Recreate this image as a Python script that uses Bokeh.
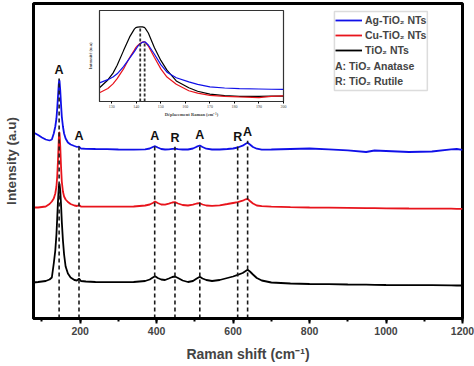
import numpy as np
from bokeh.plotting import figure
from bokeh.models import (Legend, LegendItem, BoxAnnotation, SingleIntervalTicker,
                          FixedTicker, Range1d)
from bokeh.layouts import column
from bokeh.embed import file_html
from bokeh.resources import INLINE
from bokeh.core.properties import value

# ---------------- data ----------------
shift = [78, 90, 100, 110, 120, 126, 131, 135, 138, 140, 142, 144, 145, 146, 148, 150,
         152, 155, 158, 162, 168, 175, 185, 192, 197, 202, 215, 240, 270, 300, 340, 370,
         382, 390, 396, 403, 412, 422, 432, 441, 448, 456, 468, 482, 495, 505, 513, 520,
         530, 545, 565, 585, 600, 612, 625, 633, 638, 644, 652, 662, 675, 700, 750, 800,
         850, 900, 948, 970, 1000, 1060, 1120, 1170, 1185, 1200]

ag_tio2 = [186, 183.5, 181, 179, 178, 179, 185, 192, 200, 210, 222, 234, 238, 238, 228, 214,
           202, 192, 185, 180, 176, 174, 172.5, 171.5, 172, 170, 169.7, 169.5, 169.3, 169, 168.8, 169.2,
           170, 171.5, 172.3, 171, 169.5, 169, 169.2, 169.6, 169.8, 169.3, 169, 169, 170, 171.8, 173, 171.5,
           169.8, 169, 169, 169.5, 170, 171, 172.8, 174.8, 175.7, 174, 171.5, 169.8, 168.8, 169, 169.5, 170,
           169.2, 168.2, 166.5, 168, 167.5, 166.5, 167, 169.2, 169.5, 168.7]

cu_tio2 = [111, 111, 111.5, 112, 114.5, 117, 120, 125, 132, 142, 158, 178, 186, 186, 172, 152,
           137, 127, 122, 119, 116.5, 114.5, 113, 112.5, 113.5, 112, 111.8, 111.8, 111.8, 111.8, 112, 113,
           114, 115.5, 117, 115.5, 114, 113.8, 114.8, 116, 116.3, 115, 113.5, 113, 113.8, 115, 115.3, 114,
           113, 112.7, 113.2, 114.5, 115.5, 116.3, 117.8, 119.2, 119.7, 117.5, 115, 113, 112.3, 111.8, 111.3, 111,
           110.8, 110.6, 110.4, 110.3, 110.2, 110, 109.9, 109.8, 109.7, 109.7]

tio2 = [36, 36.5, 37, 37.5, 39, 41, 55, 68, 84, 100, 117, 130, 134, 135, 128, 114,
        97, 78, 64, 52, 45, 41, 38.5, 38, 40, 37.5, 37, 36.5, 36.3, 36.3, 36.5, 37.5,
        39, 41, 42.3, 40.5, 39, 38.5, 40, 41.5, 42, 40.5, 38, 36.5, 37.5, 40, 41.7, 40,
        38.5, 37.5, 38.5, 40.5, 42, 43.7, 45.5, 47.5, 48.7, 47, 44, 40.5, 38, 36, 35, 34.5,
        34.3, 34, 33.8, 33.7, 33.5, 33.4, 33.3, 33.1, 33, 33]

peak_pos = [145, 197, 395, 448, 513, 612, 638]
peak_phase = ["A", "A", "A", "R", "A", "R", "A"]

# inset (zoom on the main band)
inset_shift = [125, 128.4, 130.5, 132.2, 134.8, 137.3, 139.2, 139.8, 140.5, 141.5, 142.5, 143.2,
               143.6, 144.9, 147.4, 150, 152.5, 156.3, 161.4, 165, 170, 176, 182, 190, 195, 200]
inset_tio2 = [14, 22, 29, 37, 52, 66, 74, 75.5, 76, 76.3, 76.3, 75.8,
              75, 70, 55, 42, 32, 21, 14, 10.5, 7.5, 6, 5.3, 5.3, 5.4, 5.5]
inset_cu = [9, 13.3, 18, 23.3, 33.3, 45, 52.5, 55, 57, 59.3, 60.7, 61,
            60.8, 56.7, 45, 33.3, 25, 17.7, 11, 8.5, 6.3, 5.3, 4.7, 4, 5.2, 5.7]
inset_ag = [19, 22.3, 25, 28.3, 35.7, 44.3, 51, 53.3, 56, 58.8, 60.5, 61,
            60.8, 57.7, 48.3, 37.7, 30, 24.3, 20, 17.5, 15, 13.8, 13.2, 12.8, 12.5, 12.3]
inset_peaks = [141.6, 143.4]

# ---------------- styles ----------------
FONT = "Liberation Sans"
BLUE = "#1010e8"
RED = "#e8141c"
BLACK = "#000000"

p = figure(width=474, height=366, x_range=Range1d(78, 1200), y_range=Range1d(0, 315),
           output_backend="svg", toolbar_location=None,
           min_border_left=33, min_border_right=12, min_border_top=3, min_border_bottom=48)
p.grid.visible = False
p.outline_line_color = "black"
p.outline_line_width = 3
p.background_fill_color = "white"
p.border_fill_color = "white"

r_tio2 = p.line(shift, tio2, line_color=BLACK, line_width=1.8)
r_cu = p.line(shift, cu_tio2, line_color=RED, line_width=1.8)
r_ag = p.line(shift, ag_tio2, line_color=BLUE, line_width=1.8)

blue_at_peak = np.interp(peak_pos, shift, ag_tio2)
tops = blue_at_peak + 2
lab_y = blue_at_peak + 3.5
ana = [i for i, ph in enumerate(peak_phase) if ph == "A"]
rut = [i for i, ph in enumerate(peak_phase) if ph == "R"]
px = np.array(peak_pos, dtype=float)
r_ana = p.segment(x0=px[ana], y0=0, x1=px[ana], y1=tops[ana], line_color="#1a1a1a",
                  line_width=1.6, line_dash="4 3")
r_rut = p.segment(x0=px[rut], y0=0, x1=px[rut], y1=tops[rut], line_color="#1a1a1a",
                  line_width=1.6, line_dash="4 3")
p.text(x=peak_pos, y=lab_y, text=peak_phase, text_font=value(FONT), text_font_style="bold",
       text_font_size="12.5px", text_align="center", text_baseline="bottom", text_color="#111")

xa = p.xaxis[0]
xa.ticker = SingleIntervalTicker(interval=200, num_minor_ticks=2)
xa.axis_label = "Raman shift (cm⁻¹)"
xa.axis_label_text_font = FONT
xa.axis_label_text_font_style = "bold"
xa.axis_label_text_font_size = "14px"
xa.axis_label_standoff = 8
xa.major_label_text_font = FONT
xa.major_label_text_font_style = "bold"
xa.major_label_text_font_size = "10.5px"
xa.major_label_standoff = 3
xa.axis_line_width = 3
xa.major_tick_line_width = 2
xa.minor_tick_line_width = 2
xa.major_tick_out = 5
xa.major_tick_in = 0
xa.minor_tick_out = 3
xa.minor_tick_in = 0

ya = p.yaxis[0]
ya.ticker = FixedTicker(ticks=[])
ya.axis_label = "Intensity (a.u)"
ya.axis_label_text_font = FONT
ya.axis_label_text_font_style = "bold"
ya.axis_label_text_font_size = "13.5px"
ya.axis_label_standoff = 15
ya.axis_line_width = 3
ya.major_tick_out = 0
ya.minor_tick_out = 0

# legend frame
box = BoxAnnotation(left=865, right=1108, bottom=228, top=307, fill_color="white", fill_alpha=1,
                    line_color="#8a8a8a", line_width=1.5)
p.add_layout(box)

leg_style = dict(label_text_font=FONT, label_text_font_style="bold", label_text_font_size="10.5px",
                 label_height=12, glyph_height=12, spacing=3, padding=3, border_line_alpha=0,
                 background_fill_alpha=0, margin=0)
leg1 = Legend(items=[LegendItem(label="Ag-TiO₂ NTs", renderers=[r_ag]),
                     LegendItem(label="Cu-TiO₂ NTs", renderers=[r_cu]),
                     LegendItem(label="TiO₂ NTs", renderers=[r_tio2])],
              location=(299, 259), glyph_width=27, label_standoff=3, **leg_style)
leg2 = Legend(items=[LegendItem(label="A: TiO₂ Anatase", renderers=[r_ana]),
                     LegendItem(label="R: TiO₂ Rutile", renderers=[r_rut])],
              location=(299, 228), glyph_width=0, label_standoff=0, **leg_style)
p.add_layout(leg1)
p.add_layout(leg2)

# ---------------- inset ----------------
ins = figure(width=229, height=111, x_range=Range1d(125, 200), y_range=Range1d(0, 93),
             output_backend="svg", toolbar_location=None,
             min_border_left=30, min_border_right=3, min_border_top=2, min_border_bottom=16)
ins.grid.visible = False
ins.outline_line_color = "#333333"
ins.outline_line_width = 1.2
ins.line(inset_shift, inset_tio2, line_color=BLACK, line_width=1.2)
ins.line(inset_shift, inset_cu, line_color=RED, line_width=1.2)
ins.line(inset_shift, inset_ag, line_color=BLUE, line_width=1.2)
itops = [np.interp(inset_peaks[0], inset_shift, inset_tio2),
         np.interp(inset_peaks[1], inset_shift, inset_cu)]
ins.segment(x0=inset_peaks, y0=0, x1=inset_peaks, y1=itops, line_color="#333333",
            line_width=1.8, line_dash="3 2")
ix = ins.xaxis[0]
ix.ticker = SingleIntervalTicker(interval=10, num_minor_ticks=0)
ix.axis_label = "Déplacement Raman (cm⁻¹)"
ix.axis_label_text_font = "Liberation Serif"
ix.axis_label_text_font_style = "bold"
ix.axis_label_text_font_size = "4.5px"
ix.axis_label_standoff = 1
ix.major_label_text_font = "Liberation Serif"
ix.major_label_text_font_size = "4px"
ix.major_label_standoff = 1
ix.major_tick_out = 2
ix.major_tick_in = 0
ix.axis_line_color = "#333333"
iy = ins.yaxis[0]
iy.ticker = FixedTicker(ticks=[])
iy.axis_label = "Intensité (u.a)"
iy.axis_label_text_font = "Liberation Serif"
iy.axis_label_text_font_style = "bold"
iy.axis_label_text_font_size = "4.5px"
iy.axis_label_standoff = 7
iy.axis_line_color = "#333333"
ins.styles = {"position": "absolute", "left": "66px", "top": "8px"}

layout = column(p, ins, styles={"position": "relative"})
open("out.html", "w").write(file_html(layout, INLINE))
